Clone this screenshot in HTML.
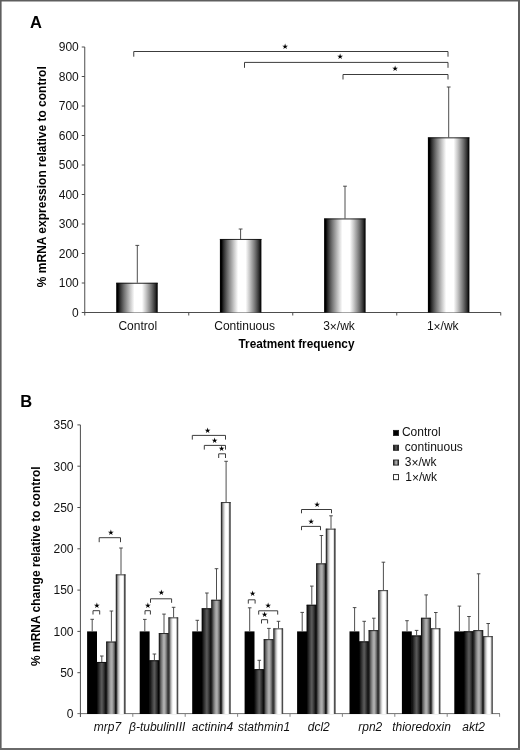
<!DOCTYPE html>
<html lang="en"><head><meta charset="utf-8"><title>Figure</title>
<style>html,body{margin:0;padding:0;background:#fff;}body{width:520px;height:750px;overflow:hidden;position:relative;}svg{position:absolute;left:0;top:0;display:block;}text{font-family:"Liberation Sans", sans-serif;font-size:12px;fill:#111;}.b{font-weight:bold;fill:#000;}.i{font-style:italic;}.pl{font-weight:bold;font-size:16.5px;fill:#000;}.st{font-family:"DejaVu Sans",sans-serif;font-size:7.5px;fill:#000;}.ax{stroke:#4d4d4d;stroke-width:1;fill:none;}.br{stroke:#3c3c3c;stroke-width:1;fill:none;}.eb{stroke:#3a3a3a;stroke-width:0.9;fill:none;}</style></head><body>
<svg width="520" height="750" viewBox="0 0 520 750">
<defs>
<linearGradient id="gA" x1="0" y1="0" x2="1" y2="0"><stop offset="0.000" stop-color="rgb(0,0,0)"/><stop offset="0.040" stop-color="rgb(0,0,0)"/><stop offset="0.090" stop-color="rgb(45,45,45)"/><stop offset="0.140" stop-color="rgb(80,80,80)"/><stop offset="0.190" stop-color="rgb(113,113,113)"/><stop offset="0.240" stop-color="rgb(143,143,143)"/><stop offset="0.290" stop-color="rgb(172,172,172)"/><stop offset="0.340" stop-color="rgb(201,201,201)"/><stop offset="0.390" stop-color="rgb(228,228,228)"/><stop offset="0.440" stop-color="rgb(255,255,255)"/><stop offset="0.620" stop-color="rgb(255,255,255)"/><stop offset="0.666" stop-color="rgb(228,228,228)"/><stop offset="0.713" stop-color="rgb(201,201,201)"/><stop offset="0.759" stop-color="rgb(172,172,172)"/><stop offset="0.805" stop-color="rgb(143,143,143)"/><stop offset="0.851" stop-color="rgb(113,113,113)"/><stop offset="0.897" stop-color="rgb(80,80,80)"/><stop offset="0.944" stop-color="rgb(45,45,45)"/><stop offset="0.990" stop-color="rgb(0,0,0)"/><stop offset="1.000" stop-color="rgb(0,0,0)"/></linearGradient>
<linearGradient id="g2" x1="0" y1="0" x2="1" y2="0"><stop offset="0.000" stop-color="rgb(0,0,0)"/><stop offset="0.030" stop-color="rgb(0,0,0)"/><stop offset="0.108" stop-color="rgb(20,20,20)"/><stop offset="0.187" stop-color="rgb(35,35,35)"/><stop offset="0.265" stop-color="rgb(49,49,49)"/><stop offset="0.343" stop-color="rgb(63,63,63)"/><stop offset="0.422" stop-color="rgb(76,76,76)"/><stop offset="0.500" stop-color="rgb(88,88,88)"/><stop offset="0.550" stop-color="rgb(88,88,88)"/><stop offset="0.620" stop-color="rgb(76,76,76)"/><stop offset="0.690" stop-color="rgb(63,63,63)"/><stop offset="0.760" stop-color="rgb(49,49,49)"/><stop offset="0.830" stop-color="rgb(35,35,35)"/><stop offset="0.900" stop-color="rgb(20,20,20)"/><stop offset="0.970" stop-color="rgb(0,0,0)"/><stop offset="1.000" stop-color="rgb(0,0,0)"/></linearGradient>
<linearGradient id="g3" x1="0" y1="0" x2="1" y2="0"><stop offset="0.000" stop-color="rgb(8,8,8)"/><stop offset="0.040" stop-color="rgb(8,8,8)"/><stop offset="0.113" stop-color="rgb(62,62,62)"/><stop offset="0.187" stop-color="rgb(91,91,91)"/><stop offset="0.260" stop-color="rgb(114,114,114)"/><stop offset="0.333" stop-color="rgb(135,135,135)"/><stop offset="0.407" stop-color="rgb(154,154,154)"/><stop offset="0.480" stop-color="rgb(172,172,172)"/><stop offset="0.600" stop-color="rgb(172,172,172)"/><stop offset="0.660" stop-color="rgb(154,154,154)"/><stop offset="0.720" stop-color="rgb(135,135,135)"/><stop offset="0.780" stop-color="rgb(114,114,114)"/><stop offset="0.840" stop-color="rgb(91,91,91)"/><stop offset="0.900" stop-color="rgb(62,62,62)"/><stop offset="0.960" stop-color="rgb(8,8,8)"/><stop offset="1.000" stop-color="rgb(8,8,8)"/></linearGradient>
<linearGradient id="g4" x1="0" y1="0" x2="1" y2="0"><stop offset="0.000" stop-color="rgb(30,30,30)"/><stop offset="0.080" stop-color="rgb(50,50,50)"/><stop offset="0.150" stop-color="rgb(120,120,120)"/><stop offset="0.280" stop-color="rgb(190,190,190)"/><stop offset="0.420" stop-color="rgb(240,240,240)"/><stop offset="0.500" stop-color="rgb(255,255,255)"/><stop offset="0.720" stop-color="rgb(255,255,255)"/><stop offset="0.800" stop-color="rgb(215,215,215)"/><stop offset="0.860" stop-color="rgb(150,150,150)"/><stop offset="0.880" stop-color="rgb(80,80,80)"/><stop offset="1.000" stop-color="rgb(70,70,70)"/></linearGradient>
</defs>
<rect x="0" y="0" width="520" height="750" fill="#fff"/>
<rect x="0" y="0" width="520" height="1.5" fill="#5e5e5e"/>
<rect x="0" y="0" width="1.6" height="750" fill="#5e5e5e"/>
<rect x="518" y="0" width="2" height="750" fill="#5e5e5e"/>
<rect x="0" y="748" width="520" height="2" fill="#6a6a6a"/>
<text class="pl" x="30" y="27.7">A</text>
<path class="ax" d="M84.75 47.0 V315.5"/>
<path class="ax" d="M81.75 312.5 H500.75"/>
<text x="78.8" y="316.80" text-anchor="end">0</text>
<path class="ax" d="M81.75 283.0 H84.75"/>
<text x="78.8" y="287.30" text-anchor="end">100</text>
<path class="ax" d="M81.75 253.5 H84.75"/>
<text x="78.8" y="257.80" text-anchor="end">200</text>
<path class="ax" d="M81.75 224.0 H84.75"/>
<text x="78.8" y="228.30" text-anchor="end">300</text>
<path class="ax" d="M81.75 194.5 H84.75"/>
<text x="78.8" y="198.80" text-anchor="end">400</text>
<path class="ax" d="M81.75 165.0 H84.75"/>
<text x="78.8" y="169.30" text-anchor="end">500</text>
<path class="ax" d="M81.75 135.5 H84.75"/>
<text x="78.8" y="139.80" text-anchor="end">600</text>
<path class="ax" d="M81.75 106.0 H84.75"/>
<text x="78.8" y="110.30" text-anchor="end">700</text>
<path class="ax" d="M81.75 76.5 H84.75"/>
<text x="78.8" y="80.80" text-anchor="end">800</text>
<path class="ax" d="M81.75 47.0 H84.75"/>
<text x="78.8" y="51.30" text-anchor="end">900</text>
<path class="ax" d="M188.75 312.5 V315.5"/>
<path class="ax" d="M292.75 312.5 V315.5"/>
<path class="ax" d="M396.75 312.5 V315.5"/>
<path class="ax" d="M500.75 312.5 V315.5"/>
<rect x="116.20" y="282.8" width="41.5" height="29.70" fill="url(#gA)"/>
<path d="M116.20 283.25 H157.70" stroke="#111" stroke-width="0.9"/>
<path class="eb" d="M137.3 282.8 V245.4 M135.40 245.4 H139.20"/>
<rect x="219.90" y="239.0" width="41.5" height="73.50" fill="url(#gA)"/>
<path d="M219.90 239.45 H261.40" stroke="#111" stroke-width="0.9"/>
<path class="eb" d="M240.6 239.0 V229.0 M238.70 229.0 H242.50"/>
<rect x="324.10" y="218.5" width="41.5" height="94.00" fill="url(#gA)"/>
<path d="M324.10 218.95 H365.60" stroke="#111" stroke-width="0.9"/>
<path class="eb" d="M345.0 218.5 V186.2 M343.10 186.2 H346.90"/>
<rect x="427.90" y="137.4" width="41.5" height="175.10" fill="url(#gA)"/>
<path d="M427.90 137.85 H469.40" stroke="#111" stroke-width="0.9"/>
<path class="eb" d="M448.7 137.4 V87.0 M446.80 87.0 H450.60"/>
<text x="137.75" y="329.6" text-anchor="middle">Control</text>
<text x="244.60" y="329.6" text-anchor="middle">Continuous</text>
<text x="339.00" y="329.6" text-anchor="middle">3<tspan dy="1.3">×</tspan><tspan dy="-1.3">/wk</tspan></text>
<text x="442.75" y="329.6" text-anchor="middle">1<tspan dy="1.3">×</tspan><tspan dy="-1.3">/wk</tspan></text>
<text class="b" x="296.5" y="347.8" text-anchor="middle" textLength="116" lengthAdjust="spacingAndGlyphs">Treatment frequency</text>
<text class="b" transform="translate(46,287.2) rotate(-90)" x="0" y="0">% mRNA expression relative to control</text>
<path class="br" d="M133.75 56.7 V51.5 H448 V56.7"/>
<text class="st" x="285.2" y="49.00" text-anchor="middle">★</text>
<path class="br" d="M244.5 67.8 V62.4 H448 V67.8"/>
<text class="st" x="340" y="59.00" text-anchor="middle">★</text>
<path class="br" d="M343 79.5 V74.5 H448 V79.5"/>
<text class="st" x="395.2" y="71.30" text-anchor="middle">★</text>
<text class="pl" x="20.3" y="407.3">B</text>
<path class="ax" d="M80.4 424.90000000000003 V717.0"/>
<path class="ax" d="M77.4 713.6 H500.0" style="stroke-width:0.8"/>
<text x="73.5" y="718.30" text-anchor="end">0</text>
<path class="ax" d="M77.4 672.70 H80.4"/>
<text x="73.5" y="677.00" text-anchor="end">50</text>
<path class="ax" d="M77.4 631.40 H80.4"/>
<text x="73.5" y="635.70" text-anchor="end">100</text>
<path class="ax" d="M77.4 590.10 H80.4"/>
<text x="73.5" y="594.40" text-anchor="end">150</text>
<path class="ax" d="M77.4 548.80 H80.4"/>
<text x="73.5" y="553.10" text-anchor="end">200</text>
<path class="ax" d="M77.4 507.50 H80.4"/>
<text x="73.5" y="511.80" text-anchor="end">250</text>
<path class="ax" d="M77.4 466.20 H80.4"/>
<text x="73.5" y="470.50" text-anchor="end">300</text>
<path class="ax" d="M77.4 424.90 H80.4"/>
<text x="73.5" y="429.20" text-anchor="end">350</text>
<path class="ax" d="M132.80 714.0 V716.8" style="stroke:#666;stroke-width:0.8"/>
<path class="ax" d="M185.20 714.0 V716.8" style="stroke:#666;stroke-width:0.8"/>
<path class="ax" d="M237.60 714.0 V716.8" style="stroke:#666;stroke-width:0.8"/>
<path class="ax" d="M290.00 714.0 V716.8" style="stroke:#666;stroke-width:0.8"/>
<path class="ax" d="M342.40 714.0 V716.8" style="stroke:#666;stroke-width:0.8"/>
<path class="ax" d="M394.80 714.0 V716.8" style="stroke:#666;stroke-width:0.8"/>
<path class="ax" d="M447.20 714.0 V716.8" style="stroke:#666;stroke-width:0.8"/>
<path class="ax" d="M499.60 714.0 V716.8" style="stroke:#666;stroke-width:0.8"/>
<rect x="87.10" y="631.4" width="9.90" height="82.60" fill="#000"/>
<path class="eb" d="M92.20 631.4 V619.3 M90.40 619.3 H94.00"/>
<rect x="96.55" y="662.0" width="9.90" height="52.00" fill="url(#g2)"/>
<path d="M96.70 662.45 H106.30" fill="none" stroke="#0c0c0c" stroke-width="0.9"/>
<path class="eb" d="M101.80 662.0 V656.0 M100.00 656.0 H103.60"/>
<rect x="106.15" y="641.6" width="9.90" height="72.40" fill="url(#g3)"/>
<path d="M106.30 642.05 H115.90" fill="none" stroke="#1c1c1c" stroke-width="0.9"/>
<path class="eb" d="M111.40 641.6 V611.0 M109.60 611.0 H113.20"/>
<rect x="115.75" y="574.4" width="9.90" height="139.60" fill="url(#g4)"/>
<path d="M115.90 574.85 H125.50" fill="none" stroke="#2e2e2e" stroke-width="0.9"/>
<path class="eb" d="M121.00 574.4 V548.0 M119.20 548.0 H122.80"/>
<rect x="139.70" y="631.4" width="9.90" height="82.60" fill="#000"/>
<path class="eb" d="M144.80 631.4 V619.4 M143.00 619.4 H146.60"/>
<rect x="149.15" y="660.3" width="9.90" height="53.70" fill="url(#g2)"/>
<path d="M149.30 660.75 H158.90" fill="none" stroke="#0c0c0c" stroke-width="0.9"/>
<path class="eb" d="M154.40 660.3 V654.0 M152.60 654.0 H156.20"/>
<rect x="158.75" y="633.1" width="9.90" height="80.90" fill="url(#g3)"/>
<path d="M158.90 633.55 H168.50" fill="none" stroke="#1c1c1c" stroke-width="0.9"/>
<path class="eb" d="M164.00 633.1 V614.1 M162.20 614.1 H165.80"/>
<rect x="168.35" y="617.4" width="9.90" height="96.60" fill="url(#g4)"/>
<path d="M168.50 617.85 H178.10" fill="none" stroke="#2e2e2e" stroke-width="0.9"/>
<path class="eb" d="M173.60 617.4 V607.3 M171.80 607.3 H175.40"/>
<rect x="192.20" y="631.4" width="9.90" height="82.60" fill="#000"/>
<path class="eb" d="M197.30 631.4 V620.3 M195.50 620.3 H199.10"/>
<rect x="201.65" y="608.3" width="9.90" height="105.70" fill="url(#g2)"/>
<path d="M201.80 608.75 H211.40" fill="none" stroke="#0c0c0c" stroke-width="0.9"/>
<path class="eb" d="M206.90 608.3 V593.0 M205.10 593.0 H208.70"/>
<rect x="211.25" y="599.8" width="9.90" height="114.20" fill="url(#g3)"/>
<path d="M211.40 600.25 H221.00" fill="none" stroke="#1c1c1c" stroke-width="0.9"/>
<path class="eb" d="M216.50 599.8 V568.7 M214.70 568.7 H218.30"/>
<rect x="220.85" y="502.1" width="9.90" height="211.90" fill="url(#g4)"/>
<path d="M221.00 502.55 H230.60" fill="none" stroke="#2e2e2e" stroke-width="0.9"/>
<path class="eb" d="M226.10 502.1 V461.3 M224.30 461.3 H227.90"/>
<rect x="244.60" y="631.4" width="9.90" height="82.60" fill="#000"/>
<path class="eb" d="M249.70 631.4 V607.8 M247.90 607.8 H251.50"/>
<rect x="254.05" y="669.2" width="9.90" height="44.80" fill="url(#g2)"/>
<path d="M254.20 669.65 H263.80" fill="none" stroke="#0c0c0c" stroke-width="0.9"/>
<path class="eb" d="M259.30 669.2 V660.3 M257.50 660.3 H261.10"/>
<rect x="263.65" y="639.2" width="9.90" height="74.80" fill="url(#g3)"/>
<path d="M263.80 639.65 H273.40" fill="none" stroke="#1c1c1c" stroke-width="0.9"/>
<path class="eb" d="M268.90 639.2 V628.4 M267.10 628.4 H270.70"/>
<rect x="273.25" y="628.4" width="9.90" height="85.60" fill="url(#g4)"/>
<path d="M273.40 628.85 H283.00" fill="none" stroke="#2e2e2e" stroke-width="0.9"/>
<path class="eb" d="M278.50 628.4 V621.3 M276.70 621.3 H280.30"/>
<rect x="297.10" y="631.4" width="9.90" height="82.60" fill="#000"/>
<path class="eb" d="M302.20 631.4 V612.4 M300.40 612.4 H304.00"/>
<rect x="306.55" y="604.8" width="9.90" height="109.20" fill="url(#g2)"/>
<path d="M306.70 605.25 H316.30" fill="none" stroke="#0c0c0c" stroke-width="0.9"/>
<path class="eb" d="M311.80 604.8 V586.1 M310.00 586.1 H313.60"/>
<rect x="316.15" y="563.4" width="9.90" height="150.60" fill="url(#g3)"/>
<path d="M316.30 563.85 H325.90" fill="none" stroke="#1c1c1c" stroke-width="0.9"/>
<path class="eb" d="M321.40 563.4 V535.5 M319.60 535.5 H323.20"/>
<rect x="325.75" y="528.7" width="9.90" height="185.30" fill="url(#g4)"/>
<path d="M325.90 529.15 H335.50" fill="none" stroke="#2e2e2e" stroke-width="0.9"/>
<path class="eb" d="M331.00 528.7 V515.8 M329.20 515.8 H332.80"/>
<rect x="349.50" y="631.4" width="9.90" height="82.60" fill="#000"/>
<path class="eb" d="M354.60 631.4 V607.6 M352.80 607.6 H356.40"/>
<rect x="358.95" y="641.4" width="9.90" height="72.60" fill="url(#g2)"/>
<path d="M359.10 641.85 H368.70" fill="none" stroke="#0c0c0c" stroke-width="0.9"/>
<path class="eb" d="M364.20 641.4 V621.3 M362.40 621.3 H366.00"/>
<rect x="368.55" y="630.2" width="9.90" height="83.80" fill="url(#g3)"/>
<path d="M368.70 630.65 H378.30" fill="none" stroke="#1c1c1c" stroke-width="0.9"/>
<path class="eb" d="M373.80 630.2 V618.2 M372.00 618.2 H375.60"/>
<rect x="378.15" y="590.2" width="9.90" height="123.80" fill="url(#g4)"/>
<path d="M378.30 590.65 H387.90" fill="none" stroke="#2e2e2e" stroke-width="0.9"/>
<path class="eb" d="M383.40 590.2 V562.2 M381.60 562.2 H385.20"/>
<rect x="401.90" y="631.4" width="9.90" height="82.60" fill="#000"/>
<path class="eb" d="M407.00 631.4 V620.7 M405.20 620.7 H408.80"/>
<rect x="411.35" y="635.5" width="9.90" height="78.50" fill="url(#g2)"/>
<path d="M411.50 635.95 H421.10" fill="none" stroke="#0c0c0c" stroke-width="0.9"/>
<path class="eb" d="M416.60 635.5 V630.4 M414.80 630.4 H418.40"/>
<rect x="420.95" y="617.8" width="9.90" height="96.20" fill="url(#g3)"/>
<path d="M421.10 618.25 H430.70" fill="none" stroke="#1c1c1c" stroke-width="0.9"/>
<path class="eb" d="M426.20 617.8 V594.9 M424.40 594.9 H428.00"/>
<rect x="430.55" y="628.3" width="9.90" height="85.70" fill="url(#g4)"/>
<path d="M430.70 628.75 H440.30" fill="none" stroke="#2e2e2e" stroke-width="0.9"/>
<path class="eb" d="M435.80 628.3 V612.5 M434.00 612.5 H437.60"/>
<rect x="454.30" y="631.4" width="9.90" height="82.60" fill="#000"/>
<path class="eb" d="M459.40 631.4 V606.1 M457.60 606.1 H461.20"/>
<rect x="463.75" y="631.3" width="9.90" height="82.70" fill="url(#g2)"/>
<path d="M463.90 631.75 H473.50" fill="none" stroke="#0c0c0c" stroke-width="0.9"/>
<path class="eb" d="M469.00 631.3 V616.5 M467.20 616.5 H470.80"/>
<rect x="473.35" y="630.2" width="9.90" height="83.80" fill="url(#g3)"/>
<path d="M473.50 630.65 H483.10" fill="none" stroke="#1c1c1c" stroke-width="0.9"/>
<path class="eb" d="M478.60 630.2 V573.8 M476.80 573.8 H480.40"/>
<rect x="482.95" y="636.2" width="9.90" height="77.80" fill="url(#g4)"/>
<path d="M483.10 636.65 H492.70" fill="none" stroke="#2e2e2e" stroke-width="0.9"/>
<path class="eb" d="M488.20 636.2 V623.5 M486.40 623.5 H490.00"/>
<text class="i" x="107.45" y="730.6" text-anchor="middle">mrp7</text>
<text class="i" x="157.20" y="730.6" text-anchor="middle">β-tubulinIII</text>
<text class="i" x="212.50" y="730.6" text-anchor="middle">actinin4</text>
<text class="i" x="264.05" y="730.6" text-anchor="middle">stathmin1</text>
<text class="i" x="318.80" y="730.6" text-anchor="middle">dcl2</text>
<text class="i" x="370.25" y="730.6" text-anchor="middle">rpn2</text>
<text class="i" x="421.50" y="730.6" text-anchor="middle">thioredoxin</text>
<text class="i" x="473.70" y="730.6" text-anchor="middle">akt2</text>
<text class="b" transform="translate(39.8,666) rotate(-90)" x="0" y="0">% mRNA change relative to control</text>
<path class="br" d="M93.0 614.5 V610.7 H99.7 V614.5"/>
<text class="st" x="96.9" y="607.70" text-anchor="middle">★</text>
<path class="br" d="M99.2 542.2 V537.7 H120.5 V542.2"/>
<text class="st" x="110.8" y="535.10" text-anchor="middle">★</text>
<path class="br" d="M145.0 614.5 V610.7 H150.4 V614.5"/>
<text class="st" x="147.8" y="607.90" text-anchor="middle">★</text>
<path class="br" d="M150.5 602.8 V598.8 H171.6 V602.8"/>
<text class="st" x="161.3" y="595.40" text-anchor="middle">★</text>
<path class="br" d="M192.3 439.59999999999997 V435.4 H225.5 V439.59999999999997"/>
<text class="st" x="207.5" y="432.50" text-anchor="middle">★</text>
<path class="br" d="M204.3 449.59999999999997 V445.4 H225.5 V449.59999999999997"/>
<text class="st" x="214.5" y="443.00" text-anchor="middle">★</text>
<path class="br" d="M218.7 458.0 V453.8 H225.5 V458.0"/>
<text class="st" x="221.7" y="451.10" text-anchor="middle">★</text>
<path class="br" d="M248.3 603.5999999999999 V599.8 H255.1 V603.5999999999999"/>
<text class="st" x="252.6" y="596.40" text-anchor="middle">★</text>
<path class="br" d="M258.7 614.5999999999999 V610.8 H277.7 V614.5999999999999"/>
<text class="st" x="268.2" y="608.00" text-anchor="middle">★</text>
<path class="br" d="M261.5 623.5 V619.7 H267.6 V623.5"/>
<text class="st" x="264.6" y="617.30" text-anchor="middle">★</text>
<path class="br" d="M301.5 513.3 V509.5 H331.5 V513.3"/>
<text class="st" x="317.2" y="506.70" text-anchor="middle">★</text>
<path class="br" d="M301.5 530.1999999999999 V526.4 H320.5 V530.1999999999999"/>
<text class="st" x="311" y="524.20" text-anchor="middle">★</text>
<rect x="393.45" y="430.40" width="5.1" height="5.1" fill="#000" stroke="#222" stroke-width="0.9"/>
<text x="401.90" y="436.40">Control</text>
<rect x="393.45" y="445.20" width="5.1" height="5.1" fill="url(#g2)" stroke="#222" stroke-width="0.9"/>
<text x="404.80" y="451.20">continuous</text>
<rect x="393.45" y="460.00" width="5.1" height="5.1" fill="url(#g3)" stroke="#222" stroke-width="0.9"/>
<text x="404.80" y="466.00">3<tspan dy="1.3">×</tspan><tspan dy="-1.3">/wk</tspan></text>
<rect x="393.45" y="474.60" width="5.1" height="5.1" fill="#fff" stroke="#222" stroke-width="0.9"/>
<text x="405.20" y="480.60">1<tspan dy="1.3">×</tspan><tspan dy="-1.3">/wk</tspan></text>
</svg></body></html>
